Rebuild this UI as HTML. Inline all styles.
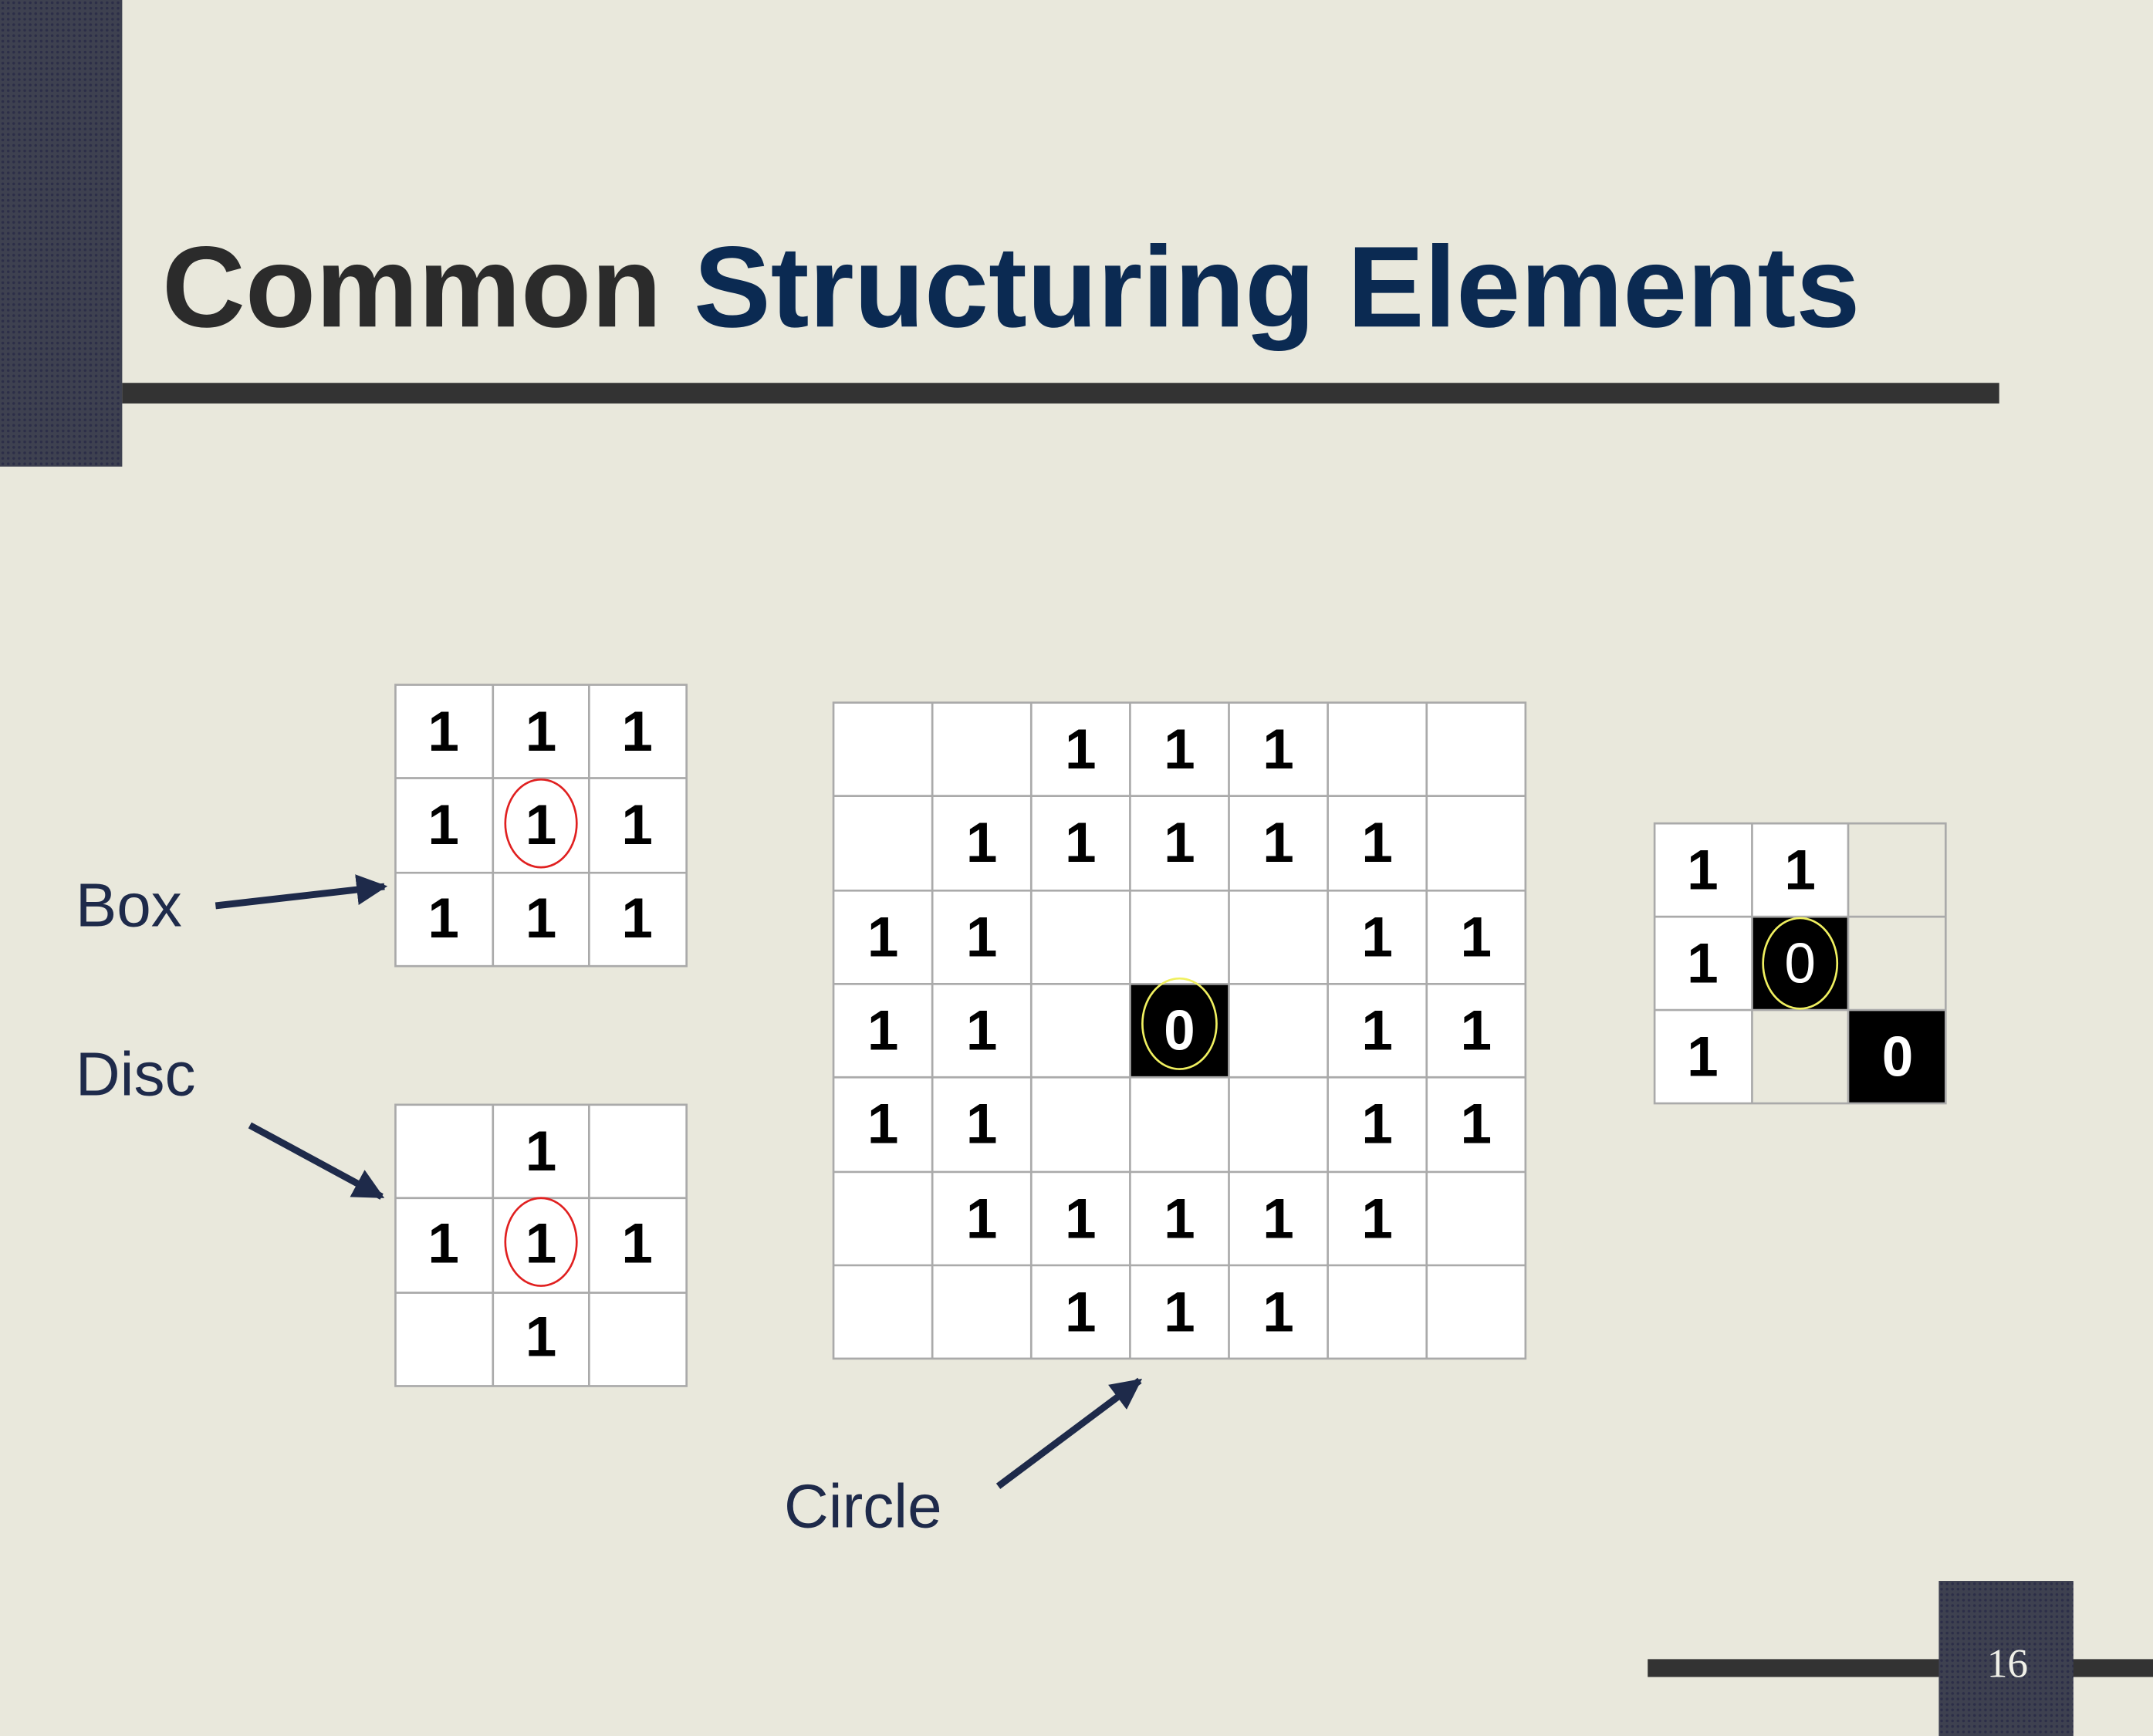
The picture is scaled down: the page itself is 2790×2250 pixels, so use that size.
<!DOCTYPE html>
<html><head><meta charset="utf-8"><style>
html,body{margin:0;padding:0;width:2790px;height:2250px;overflow:hidden;background:#e9e8dc;}
svg{display:block}
text{font-family:"Liberation Sans",Arial,sans-serif}
.n{font-size:41px;font-weight:bold;fill:#000;text-anchor:middle}
.g{stroke:#aaa;stroke-width:1.5;fill:none}
</style></head><body>
<svg width="2790" height="2250" viewBox="0 0 1568 1265" preserveAspectRatio="none" xmlns="http://www.w3.org/2000/svg">
<defs>
<pattern id="dots" width="4" height="4" patternUnits="userSpaceOnUse">
<rect width="4" height="4" fill="#3e4150"/><circle cx="2" cy="2" r="1" fill="#2c2e48"/>
</pattern>
<marker id="ah" viewBox="0 0 10 10" refX="9" refY="5" markerWidth="4.5" markerHeight="4.5" orient="auto"><path d="M0,0 L10,5 L0,10 z" fill="#1e2a4a"/></marker>
</defs>
<rect width="1568" height="1265" fill="#e9e8dc"/>
<rect x="0" y="0" width="89" height="340" fill="url(#dots)"/>
<text x="118" y="238" style="font-size:84px;font-weight:bold"><tspan fill="#2b2b2b">Common </tspan><tspan fill="#0b2a52">Structuring Elements</tspan></text>
<rect x="89" y="279" width="1367" height="15" fill="#333"/>

<rect x="288" y="499" width="212" height="205" fill="#fff"/>
<g class="g"><rect x="288" y="499" width="212" height="205"/><line x1="359" y1="499" x2="359" y2="704"/><line x1="429" y1="499" x2="429" y2="704"/><line x1="288" y1="567" x2="500" y2="567"/><line x1="288" y1="636" x2="500" y2="636"/></g>
<g class="n"><text x="323" y="547">1</text><text x="394" y="547">1</text><text x="464" y="547">1</text>
<text x="323" y="615">1</text><text x="394" y="615">1</text><text x="464" y="615">1</text>
<text x="323" y="683">1</text><text x="394" y="683">1</text><text x="464" y="683">1</text></g>
<ellipse cx="394" cy="600" rx="26" ry="32" fill="none" stroke="#e02020" stroke-width="1.5"/>

<rect x="288" y="805" width="212" height="205" fill="#fff"/>
<g class="g"><rect x="288" y="805" width="212" height="205"/><line x1="359" y1="805" x2="359" y2="1010"/><line x1="429" y1="805" x2="429" y2="1010"/><line x1="288" y1="873" x2="500" y2="873"/><line x1="288" y1="942" x2="500" y2="942"/></g>
<g class="n"><text x="394" y="853">1</text><text x="323" y="920">1</text><text x="394" y="920">1</text><text x="464" y="920">1</text><text x="394" y="988">1</text></g>
<ellipse cx="394" cy="905" rx="26" ry="32" fill="none" stroke="#e02020" stroke-width="1.5"/>

<rect x="607" y="512" width="504" height="478" fill="#fff"/>
<rect x="823" y="717" width="72" height="68" fill="#000"/>
<g class="g"><rect x="607" y="512" width="504" height="478"/>
<line x1="679" y1="512" x2="679" y2="990"/><line x1="751" y1="512" x2="751" y2="990"/><line x1="823" y1="512" x2="823" y2="990"/><line x1="895" y1="512" x2="895" y2="990"/><line x1="967" y1="512" x2="967" y2="990"/><line x1="1039" y1="512" x2="1039" y2="990"/>
<line x1="607" y1="580" x2="1111" y2="580"/><line x1="607" y1="649" x2="1111" y2="649"/><line x1="607" y1="717" x2="1111" y2="717"/><line x1="607" y1="785" x2="1111" y2="785"/><line x1="607" y1="854" x2="1111" y2="854"/><line x1="607" y1="922" x2="1111" y2="922"/></g>
<g class="n">
<text x="787" y="560">1</text><text x="859" y="560">1</text><text x="931" y="560">1</text>
<text x="715" y="628">1</text><text x="787" y="628">1</text><text x="859" y="628">1</text><text x="931" y="628">1</text><text x="1003" y="628">1</text>
<text x="643" y="697">1</text><text x="715" y="697">1</text><text x="1003" y="697">1</text><text x="1075" y="697">1</text>
<text x="643" y="765">1</text><text x="715" y="765">1</text><text x="1003" y="765">1</text><text x="1075" y="765">1</text>
<text x="643" y="833">1</text><text x="715" y="833">1</text><text x="1003" y="833">1</text><text x="1075" y="833">1</text>
<text x="715" y="902">1</text><text x="787" y="902">1</text><text x="859" y="902">1</text><text x="931" y="902">1</text><text x="1003" y="902">1</text>
<text x="787" y="970">1</text><text x="859" y="970">1</text><text x="931" y="970">1</text>
<text x="859" y="765" style="fill:#fff">0</text></g>
<ellipse cx="859" cy="746" rx="27" ry="33" fill="none" stroke="#f0f060" stroke-width="1.5"/>

<rect x="1205" y="600" width="141" height="68" fill="#fff"/>
<rect x="1205" y="668" width="71" height="136" fill="#fff"/>
<rect x="1276" y="668" width="70" height="68" fill="#000"/>
<rect x="1346" y="736" width="71" height="68" fill="#000"/>
<g class="g"><rect x="1205" y="600" width="212" height="204"/><line x1="1276" y1="600" x2="1276" y2="804"/><line x1="1346" y1="600" x2="1346" y2="804"/><line x1="1205" y1="668" x2="1417" y2="668"/><line x1="1205" y1="736" x2="1417" y2="736"/></g>
<g class="n"><text x="1240" y="648">1</text><text x="1311" y="648">1</text><text x="1240" y="716">1</text><text x="1240" y="784">1</text><text x="1382" y="784" style="fill:#fff">0</text></g>
<text x="1311" y="716" style="font-size:41px;fill:#fff;text-anchor:middle">0</text>
<ellipse cx="1311" cy="702" rx="27" ry="33" fill="none" stroke="#f0f060" stroke-width="1.5"/>

<g style="font-size:45px;fill:#1e2a4a"><text x="55" y="675">Box</text><text x="55" y="798">Disc</text><text x="571" y="1113">Circle</text></g>
<g stroke="#1e2a4a" stroke-width="5" marker-end="url(#ah)">
<line x1="157" y1="660" x2="280" y2="646"/>
<line x1="182" y1="820" x2="278" y2="872"/>
<line x1="727" y1="1083" x2="830" y2="1006"/>
</g>

<rect x="1200" y="1209" width="368" height="13" fill="#333"/>
<rect x="1412" y="1152" width="98" height="113" fill="url(#dots)"/>
<text x="1462" y="1222" style="font-family:'Liberation Serif',serif;font-size:30px;fill:#f0f0e8;text-anchor:middle">16</text>
</svg>
</body></html>
